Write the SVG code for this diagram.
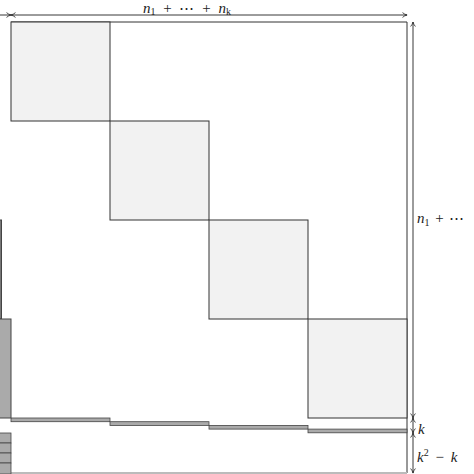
<svg xmlns="http://www.w3.org/2000/svg" width="474" height="474" viewBox="0 0 474 474">
<defs>
<marker id="ah" viewBox="0 0 6 6" refX="5.5" refY="3" markerWidth="6" markerHeight="6" markerUnits="userSpaceOnUse" orient="auto-start-reverse">
<path d="M1,0.6 Q3,2.4 5.6,3 Q3,3.6 1,5.4" fill="none" stroke="#222" stroke-width="0.8"/>
</marker>
<style>
.blk{fill:#f2f2f2;stroke:#333;stroke-width:1}
.row{fill:#aaa;stroke:#444;stroke-width:0.8}
.dim{stroke:#222;stroke-width:0.9;fill:none;marker-start:url(#ah);marker-end:url(#ah)}
.lbl{font-family:"Liberation Serif","DejaVu Serif",serif;font-style:italic;font-size:15px;fill:#222}
.op{font-style:normal}
.sub{font-size:10px;font-style:normal}
</style>
</defs>
<rect width="474" height="474" fill="#fff"/>
<g id="frame">
<path d="M11,22 H407 V473" fill="none" stroke="#333" stroke-width="1"/>
<line x1="11" y1="473" x2="407" y2="473" stroke="#bbb" stroke-width="2"/>
</g>
<g id="block1"><rect class="blk" x="11" y="22" width="99" height="99"/></g>
<g id="block2"><rect class="blk" x="110" y="121" width="99" height="99"/></g>
<g id="block3"><rect class="blk" x="209" y="220" width="99" height="99"/></g>
<g id="block4"><rect class="blk" x="308" y="319" width="99" height="99"/></g>
<g id="rows">
<rect class="row" x="11" y="418" width="99" height="3.7"/>
<rect class="row" x="110" y="421.7" width="99" height="3.7"/>
<rect class="row" x="209" y="425.4" width="99" height="3.7"/>
<rect class="row" x="308" y="429.1" width="99" height="3.7"/>
</g>
<g id="leftbars">
<rect x="-9" y="220" width="10.5" height="99" fill="#777" stroke="#444" stroke-width="1"/>
<rect x="-0.5" y="319" width="11.5" height="99" fill="#aaa" stroke="#444" stroke-width="1"/>
<rect class="row" x="-0.5" y="433" width="11.5" height="10" fill="#999"/>
<rect class="row" x="-0.5" y="443" width="11.5" height="10"/>
<rect class="row" x="-0.5" y="453" width="11.5" height="10"/>
<rect class="row" x="-0.5" y="463" width="11.5" height="11"/>
</g>
<g id="connectors">
<line class="dim" x1="-20" y1="15" x2="11" y2="15"/>
<line class="dim" x1="11" y1="15" x2="407" y2="15"/>
<line class="dim" x1="413" y1="22" x2="413" y2="418"/>
<line class="dim" x1="413" y1="418" x2="413" y2="433"/>
<line class="dim" x1="413" y1="433" x2="413" y2="473"/>
</g>
<g id="labels">
<text class="lbl" x="143" y="12.5" word-spacing="4">n<tspan class="sub" dy="2.5">1</tspan><tspan class="op" dy="-2.5"> + ⋯ + </tspan>n<tspan class="sub" font-style="italic" dy="2.5">k</tspan></text>
<text class="lbl" x="417" y="223" word-spacing="2">n<tspan class="sub" dy="2.5">1</tspan><tspan class="op" dy="-2.5"> + ⋯</tspan></text>
<text class="lbl" x="418" y="434">k</text>
<text class="lbl" x="417" y="462" word-spacing="3">k<tspan class="sub" dy="-6">2</tspan><tspan class="op" dy="6"> − </tspan>k</text>
</g>
</svg>
